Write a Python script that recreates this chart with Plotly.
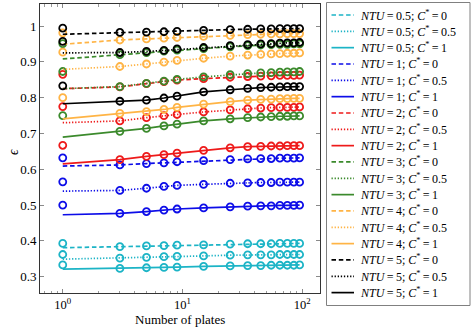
import plotly.graph_objects as go

# Number of plates at which the effectiveness was evaluated
plates = [1, 3, 5, 7, 9, 15, 25, 35, 45, 55, 65, 75, 85, 95]

ntu_values = [0.5, 1, 2, 3, 4, 5]
cr_values = [0, 0.5, 1]
ntu_labels = ["0.5", "1", "2", "3", "4", "5"]
cr_labels = ["0", "0.5", "1"]

# Plate-model effectiveness curves (one list per NTU / C* pair)
eps_ntu05_c0 = [0.381, 0.384, 0.386, 0.387, 0.388, 0.389, 0.391, 0.392, 0.392, 0.392, 0.393, 0.393, 0.393, 0.393]
eps_ntu05_c05 = [0.349, 0.352, 0.354, 0.356, 0.357, 0.358, 0.360, 0.361, 0.361, 0.361, 0.362, 0.362, 0.362, 0.362]
eps_ntu05_c1 = [0.321, 0.323, 0.325, 0.326, 0.327, 0.329, 0.330, 0.331, 0.331, 0.332, 0.332, 0.332, 0.332, 0.333]
eps_ntu1_c0 = [0.609, 0.612, 0.616, 0.618, 0.621, 0.624, 0.627, 0.629, 0.630, 0.630, 0.631, 0.631, 0.631, 0.632]
eps_ntu1_c05 = [0.539, 0.541, 0.547, 0.552, 0.555, 0.558, 0.561, 0.562, 0.563, 0.563, 0.564, 0.564, 0.564, 0.564]
eps_ntu1_c1 = [0.473, 0.477, 0.482, 0.486, 0.489, 0.492, 0.495, 0.497, 0.498, 0.498, 0.499, 0.499, 0.499, 0.500]
eps_ntu2_c0 = [0.825, 0.830, 0.839, 0.845, 0.849, 0.853, 0.857, 0.859, 0.860, 0.861, 0.862, 0.862, 0.862, 0.863]
eps_ntu2_c05 = [0.730, 0.735, 0.744, 0.750, 0.753, 0.760, 0.766, 0.769, 0.771, 0.772, 0.773, 0.773, 0.773, 0.774]
eps_ntu2_c1 = [0.615, 0.627, 0.636, 0.641, 0.645, 0.653, 0.660, 0.663, 0.664, 0.665, 0.665, 0.666, 0.666, 0.666]
eps_ntu3_c0 = [0.908, 0.920, 0.926, 0.930, 0.933, 0.937, 0.942, 0.945, 0.947, 0.948, 0.949, 0.949, 0.950, 0.950]
eps_ntu3_c05 = [0.825, 0.831, 0.840, 0.846, 0.851, 0.858, 0.864, 0.867, 0.869, 0.870, 0.871, 0.872, 0.872, 0.873]
eps_ntu3_c1 = [0.690, 0.706, 0.714, 0.721, 0.726, 0.735, 0.741, 0.744, 0.746, 0.747, 0.748, 0.748, 0.749, 0.749]
eps_ntu4_c0 = [0.949, 0.961, 0.964, 0.966, 0.968, 0.971, 0.974, 0.976, 0.977, 0.978, 0.978, 0.979, 0.979, 0.979]
eps_ntu4_c05 = [0.879, 0.887, 0.894, 0.899, 0.904, 0.910, 0.916, 0.919, 0.921, 0.922, 0.923, 0.924, 0.924, 0.925]
eps_ntu4_c1 = [0.741, 0.756, 0.761, 0.767, 0.773, 0.782, 0.789, 0.793, 0.795, 0.796, 0.797, 0.797, 0.798, 0.798]
eps_ntu5_c0 = [0.977, 0.982, 0.983, 0.984, 0.985, 0.988, 0.990, 0.991, 0.992, 0.992, 0.993, 0.993, 0.993, 0.993]
eps_ntu5_c05 = [0.925, 0.926, 0.929, 0.932, 0.936, 0.940, 0.945, 0.948, 0.950, 0.951, 0.952, 0.953, 0.953, 0.954]
eps_ntu5_c1 = [0.783, 0.790, 0.793, 0.799, 0.804, 0.816, 0.822, 0.826, 0.828, 0.829, 0.830, 0.831, 0.831, 0.831]

# Simulated effectiveness of a single plate (C* = 0, 0.5, 1) for each NTU
single_ntu05 = [0.393, 0.362, 0.333]
single_ntu1 = [0.632, 0.565, 0.500]
single_ntu2 = [0.865, 0.775, 0.667]
single_ntu3 = [0.951, 0.873, 0.750]
single_ntu4 = [0.981, 0.927, 0.800]
single_ntu5 = [0.994, 0.957, 0.833]

curves = [
    [eps_ntu05_c0, eps_ntu05_c05, eps_ntu05_c1],
    [eps_ntu1_c0, eps_ntu1_c05, eps_ntu1_c1],
    [eps_ntu2_c0, eps_ntu2_c05, eps_ntu2_c1],
    [eps_ntu3_c0, eps_ntu3_c05, eps_ntu3_c1],
    [eps_ntu4_c0, eps_ntu4_c05, eps_ntu4_c1],
    [eps_ntu5_c0, eps_ntu5_c05, eps_ntu5_c1],
]
singles = [single_ntu05, single_ntu1, single_ntu2, single_ntu3, single_ntu4, single_ntu5]

colors = ["#1cb4c6", "#0d0de8", "#ee1a1a", "#3b8a2c", "#ffb445", "#000000"]
dashes = ["4.5px,2.8px", "1.3px,1.8px", "solid"]

FONT = "'Liberation Serif', 'Times New Roman', serif"
W, H = 474, 330
L, R, T, B = 40, 154, 4, 37
pw, ph = W - L - R, H - T - B

fig = go.Figure()

for i, ntu in enumerate(ntu_values):
    for j, cr in enumerate(cr_values):
        y_line = curves[i][j]
        fig.add_trace(go.Scatter(
            x=plates, y=y_line, mode="lines",
            line=dict(color=colors[i], width=1.7, dash=dashes[j]),
            showlegend=False, hoverinfo="skip"))
        y_mark = [singles[i][j]] + y_line[1:]
        fig.add_trace(go.Scatter(
            x=plates, y=y_mark, mode="markers",
            marker=dict(symbol="circle-open", size=7, color=colors[i],
                        line=dict(width=1.8, color=colors[i])),
            showlegend=False))

# Legend drawn by hand so all 18 entries fit in the box
shapes = []
annotations = []


def px_to_paper_x(px):
    return (px - L) / pw


def py_to_paper_y(py):
    return (H - B - py) / ph


shapes.append(dict(type="rect", xref="paper", yref="paper",
                   x0=px_to_paper_x(326.5), x1=px_to_paper_x(470),
                   y0=py_to_paper_y(305.5), y1=py_to_paper_y(2.5),
                   line=dict(color="#808080", width=1), fillcolor="white", layer="below"))

row = 0
for i, ntu in enumerate(ntu_values):
    for j, cr in enumerate(cr_values):
        py = 15 + 16.33 * row
        yp = py_to_paper_y(py)
        shapes.append(dict(type="line", xref="paper", yref="paper",
                           x0=px_to_paper_x(331.5), x1=px_to_paper_x(354),
                           y0=yp, y1=yp,
                           line=dict(color=colors[i], width=1.7, dash=dashes[j])))
        text = ("<i>NTU</i>\u2009=\u2009" + ntu_labels[i] + "; <i>C</i><sup>*</sup>\u2009=\u2009"
                + cr_labels[j])
        annotations.append(dict(xref="paper", yref="paper", x=px_to_paper_x(357.5), y=yp,
                                xanchor="left", yanchor="middle", text=text, showarrow=False,
                                font=dict(family=FONT, size=12, color="black")))
        row += 1

# Axis titles placed as annotations for precise positioning
annotations.append(dict(xref="paper", yref="paper", x=px_to_paper_x(180), y=py_to_paper_y(319),
                        xanchor="center", yanchor="middle", text="Number of plates",
                        showarrow=False, font=dict(family=FONT, size=13, color="black")))
annotations.append(dict(xref="paper", yref="paper", x=px_to_paper_x(13), y=py_to_paper_y(152),
                        xanchor="center", yanchor="middle", text="<i>\u03f5</i>", textangle=-90,
                        showarrow=False, font=dict(family=FONT, size=14, color="black")))

minor_x = [0.7, 0.8, 0.9] + [k for k in range(2, 10)] + [10 * k for k in range(2, 10)] + [200]

fig.update_layout(
    width=W, height=H,
    margin=dict(l=L, r=R, t=T, b=B),
    paper_bgcolor="white", plot_bgcolor="white",
    font=dict(family=FONT, size=13, color="black"),
    shapes=shapes, annotations=annotations,
    xaxis=dict(
        type="log", range=[-0.19, 2.148],
        tickvals=[1, 10, 100],
        ticktext=["10<sup>0</sup>", "10<sup>1</sup>", "10<sup>2</sup>"],
        ticks="inside", ticklen=4, tickcolor="#8a8a8a", tickwidth=1,
        minor=dict(tickvals=minor_x, ticks="inside", ticklen=2.5,
                   tickcolor="#9a9a9a", tickwidth=1, showgrid=False),
        showline=True, linecolor="#333333", linewidth=1, mirror="allticks",
        showgrid=False, zeroline=False,
        tickfont=dict(size=12.5),
    ),
    yaxis=dict(
        range=[0.2545, 1.0615],
        tickvals=[0.3, 0.4, 0.5, 0.6, 0.7, 0.8, 0.9, 1.0],
        ticktext=["0.3", "0.4", "0.5", "0.6", "0.7", "0.8", "0.9", "1"],
        ticks="inside", ticklen=4, tickcolor="#8a8a8a", tickwidth=1,
        showline=True, linecolor="#333333", linewidth=1, mirror="allticks",
        showgrid=False, zeroline=False,
        tickfont=dict(size=13),
    ),
)

fig.write_html("out.html")
